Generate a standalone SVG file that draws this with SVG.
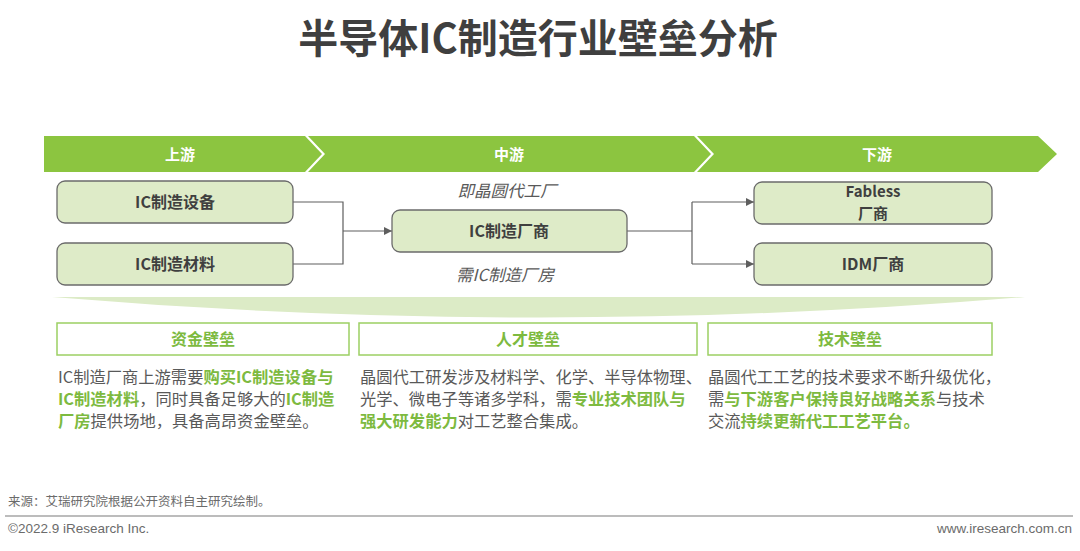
<svg xmlns="http://www.w3.org/2000/svg" width="1080" height="551" viewBox="0 0 1080 551">
<defs>
<style>
text{font-family:"Noto Sans CJK SC","Noto Sans","Liberation Sans",sans-serif;}
.title{font-size:40px;font-weight:bold;fill:#3f3f3f;}
.band{font-size:15px;font-weight:bold;fill:#ffffff;}
.node rect{fill:#deebc8;stroke:#6b6b6b;stroke-width:1.3;}
.node text{font-size:16px;font-weight:bold;fill:#3f3f3f;}
.node text.two{font-size:15px;}
.note{font-size:16.5px;font-style:italic;fill:#595959;}
.bar rect{fill:#ffffff;stroke:#9ccf63;stroke-width:1.5;}
.bar text{font-size:16px;font-weight:bold;fill:#7dba3f;}
.body{font-size:16.3px;fill:#595959;}
.hl{font-weight:bold;fill:#7dba3f;}
.foot{font-size:12.5px;fill:#6b6b6b;}
.conn{fill:none;stroke:#5e5e5e;stroke-width:1.2;}
</style>
<marker id="arr" viewBox="0 0 10 10" refX="10" refY="5" markerWidth="8" markerHeight="8" markerUnits="userSpaceOnUse" orient="auto">
<path d="M0,0 L10,5 L0,10 z" fill="#5e5e5e"/>
</marker>
</defs>
<rect width="1080" height="551" fill="#ffffff"/>
<text class="title" x="538" y="53" text-anchor="middle">半导体IC制造行业壁垒分析</text>

<g id="banner">
<polygon points="44,136 305,136 322,154 305,172 44,172" fill="#8cc540"/>
<polygon points="308,136 694,136 711,154 694,172 308,172 325,154" fill="#8cc540"/>
<polygon points="697,136 1038,136 1057,154 1038,172 697,172 714,154" fill="#8cc540"/>
<text class="band" x="180" y="160" text-anchor="middle">上游</text>
<text class="band" x="509" y="160" text-anchor="middle">中游</text>
<text class="band" x="877" y="160" text-anchor="middle">下游</text>
</g>

<g id="connectors">
<polyline class="conn" points="293,202 343,202 343,264 293,264"/>
<line class="conn" x1="343" y1="231" x2="392" y2="231" marker-end="url(#arr)"/>
<line class="conn" x1="627" y1="231" x2="692" y2="231"/>
<line class="conn" x1="692" y1="202" x2="692" y2="264"/>
<line class="conn" x1="692" y1="202" x2="754" y2="202" marker-end="url(#arr)"/>
<line class="conn" x1="692" y1="264" x2="754" y2="264" marker-end="url(#arr)"/>
</g>

<g id="node-equip" class="node">
<rect x="57" y="181" width="236" height="42" rx="8"/>
<text x="175" y="208" text-anchor="middle">IC制造设备</text>
</g>
<g id="node-material" class="node">
<rect x="57" y="243" width="236" height="42" rx="8"/>
<text x="175" y="270" text-anchor="middle">IC制造材料</text>
</g>
<g id="node-fab" class="node">
<rect x="392" y="210" width="235" height="42" rx="8"/>
<text x="509" y="237" text-anchor="middle">IC制造厂商</text>
</g>
<g id="node-fabless" class="node">
<rect x="754" y="182" width="238" height="42" rx="8"/>
<text class="two" x="873" y="197" text-anchor="middle">Fabless</text>
<text class="two" x="873" y="219" text-anchor="middle">厂商</text>
</g>
<g id="node-idm" class="node">
<rect x="754" y="243" width="238" height="42" rx="8"/>
<text x="873" y="270" text-anchor="middle">IDM厂商</text>
</g>

<text class="note" x="507" y="197" text-anchor="middle">即晶圆代工厂</text>
<text class="note" x="505" y="281" text-anchor="middle">需IC制造厂房</text>

<path d="M52,297 L1025,297 Q540,338 52,297 z" fill="#dcebc6"/>

<g id="bar-capital" class="bar">
<rect x="57" y="323" width="292" height="32"/>
<text x="203" y="345" text-anchor="middle">资金壁垒</text>
</g>
<g id="bar-talent" class="bar">
<rect x="359" y="323" width="338" height="32"/>
<text x="528" y="345" text-anchor="middle">人才壁垒</text>
</g>
<g id="bar-tech" class="bar">
<rect x="708" y="323" width="284" height="32"/>
<text x="850" y="345" text-anchor="middle">技术壁垒</text>
</g>

<g id="text-capital">
<text class="body" x="58" y="383">IC制造厂商上游需要<tspan class="hl">购买IC制造设备与</tspan></text>
<text class="body" x="58" y="405"><tspan class="hl">IC制造材料</tspan>，同时具备足够大的<tspan class="hl">IC制造</tspan></text>
<text class="body" x="58" y="427"><tspan class="hl">厂房</tspan>提供场地，具备高昂资金壁垒。</text>
</g>
<g id="text-talent">
<text class="body" x="360" y="383">晶圆代工研发涉及材料学、化学、半导体物理、</text>
<text class="body" x="360" y="405">光学、微电子等诸多学科，需<tspan class="hl">专业技术团队与</tspan></text>
<text class="body" x="360" y="427"><tspan class="hl">强大研发能力</tspan>对工艺整合集成。</text>
</g>
<g id="text-tech">
<text class="body" x="708" y="383">晶圆代工工艺的技术要求不断升级优化，</text>
<text class="body" x="708" y="405">需<tspan class="hl">与下游客户保持良好战略关系</tspan>与技术</text>
<text class="body" x="708" y="427">交流<tspan class="hl">持续更新代工工艺平台。</tspan></text>
</g>

<g id="footer">
<text class="foot" x="8" y="506">来源：艾瑞研究院根据公开资料自主研究绘制。</text>
<line x1="5" y1="516" x2="1073" y2="516" stroke="#a6a6a6" stroke-width="1.5"/>
<text class="foot" x="8" y="533" style="font-family:'Liberation Sans Narrow','Liberation Sans',sans-serif;font-size:13.5px">©2022.9 iResearch Inc.</text>
<text class="foot" x="1072" y="533" text-anchor="end" style="font-family:'Liberation Sans Narrow','Liberation Sans',sans-serif;font-size:13.5px">www.iresearch.com.cn</text>
</g>
</svg>
